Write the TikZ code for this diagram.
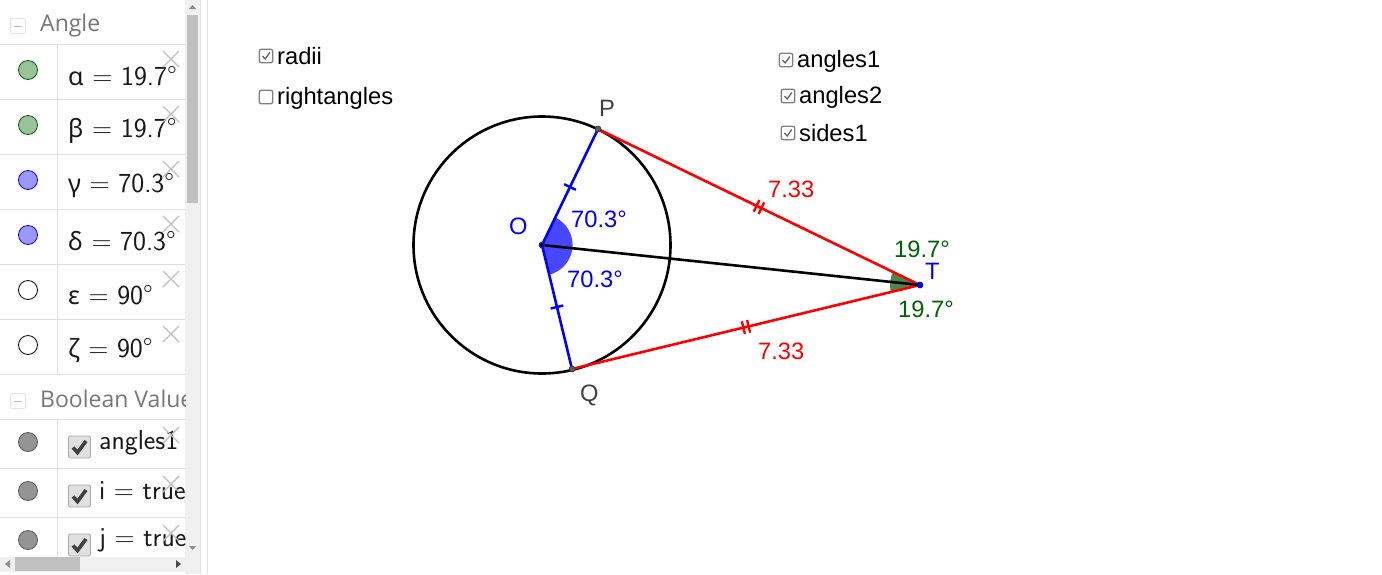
\documentclass[tikz,border=0pt]{standalone}
\usepackage{fontspec}
\usetikzlibrary{calc}
\setmainfont{Liberation Sans}
\newfontfamily\panelfont{Open Sans}
\newfontfamily\greekfont{Noto Sans}
\setsansfont{Latin Modern Sans}
\definecolor{gridl}{HTML}{E0E0E0}
\definecolor{darkgreen}{HTML}{006400}
\definecolor{markgreen}{HTML}{99C299}
\definecolor{markblue}{HTML}{9999FF}
\definecolor{headgray}{HTML}{777777}
\definecolor{scrollbg}{HTML}{F0F0F0}
\definecolor{thumb}{HTML}{C0C0C0}
\tikzset{
 lab/.style={font=\fontsize{23.7}{24}\selectfont,anchor=west,inner sep=0pt},
 blab/.style={lab,text=blue},
 rlab/.style={lab,text=red},
 glab/.style={lab,text=darkgreen},
 plab/.style={lab,text=black!75},
 pt/.style={circle,draw=black!80,fill=black!65,inner sep=0pt,minimum size=6pt,line width=.6pt},
 cbx/.style={draw=black!50,fill=white,rounded corners=2pt,line width=1.3pt,minimum size=13.5pt,inner sep=0pt},
 rowtext/.style={font=\sffamily\fontsize{27.5}{28}\selectfont,anchor=west,inner sep=0pt,text=black!90},
 head/.style={font=\panelfont\fontsize{23}{24}\selectfont,text=headgray,anchor=west,inner sep=0pt},
 mk/.style={circle,draw=#1,inner sep=0pt,minimum size=19pt,line width=.8pt},
 closex/.style={draw=black!25,line width=1.4pt},
 grid/.style={draw=gridl,line width=1pt},
 minusbox/.style={draw=black!10,rounded corners=2pt,line width=1pt,minimum size=15pt,inner sep=0pt,fill=white},
 panelcheck/.style={draw=black!35,fill=black!12,rounded corners=2pt,line width=.8pt,minimum size=22pt,inner sep=0pt},
 seg/.style={line width=2.6pt},
}
\newcommand{\tick}[3]{\draw[#3,line width=2.4pt] ($(#1)!.5!(#2)!6.5pt!90:(#2)$) -- ($(#1)!.5!(#2)!6.5pt!-90:(#2)$);}
\newcommand{\dtick}[3]{%
 \draw[#3,line width=2.4pt] ($($(#1)!.5!(#2)$)!2.7pt!0:(#2)!6.5pt!90:(#2)$) -- ($($(#1)!.5!(#2)$)!2.7pt!0:(#2)!6.5pt!-90:(#2)$);
 \draw[#3,line width=2.4pt] ($($(#1)!.5!(#2)$)!-2.7pt!0:(#2)!6.5pt!90:(#2)$) -- ($($(#1)!.5!(#2)$)!-2.7pt!0:(#2)!6.5pt!-90:(#2)$);}
\newcommand{\xmark}[2]{\draw[closex] (#1-8,#2-8) -- (#1+8,#2+8) (#1+8,#2-8) -- (#1-8,#2+8);}
\newcommand{\chk}[2]{\draw[black!75,line width=3.6pt] (#1-6.5,#2+0.5) -- (#1-2,#2+5.5) -- (#1+6.5,#2-6);}
\newcommand{\minichk}[2]{\draw[black!60,line width=1.3pt] (#1-3.5,#2) -- (#1-.8,#2+3) -- (#1+3.8,#2-3.5);}
\begin{document}
\begin{tikzpicture}[x=1pt,y=-1pt]
\useasboundingbox (0,0) rectangle (1382,574);
\fill[white] (0,0) rectangle (1382,574);
% --- geometry
\coordinate (C) at (542,245);
\node[circle,draw=black,line width=2.6pt,minimum size=257pt,inner sep=0pt] (circ) at (C) {};
\fill[blue,opacity=.72] (542,245) -- (555.3,217.5) arc[start angle=-64.2,end angle=76.4,radius=30.5] -- cycle;
\fill[darkgreen!85!black,opacity=.7] (920,285) -- (893,271.9) arc[start angle=205.85,end angle=166.4,radius=30] -- cycle;
\coordinate (Oc) at (542,245);\coordinate (Pc) at (598,129);\coordinate (Qc) at (572,369);\coordinate (Tc) at (920,285);
\draw[blue,seg] (Oc) -- (Pc);
\draw[blue,seg] (Oc) -- (Qc);
\draw[red,seg] (Pc) -- (Tc);
\draw[red,seg] (Qc) -- (Tc);
\draw[black,seg] (Oc) -- (Tc);
\tick{Oc}{Pc}{blue}
\tick{Oc}{Qc}{blue}
\dtick{Pc}{Tc}{red}
\dtick{Qc}{Tc}{red}
\node[pt,fill=blue!70!black] (O) at (Oc) {};
\node[pt] (P) at (Pc) {};
\node[pt] (Q) at (Qc) {};
\node[pt,fill=blue,draw=blue!50!black] (T) at (Tc) {};
\node[plab] (lP) at (599,108) {P};
\node[plab] (lQ) at (580,395) {Q};
\node[blab] (lO) at (509,226) {O};
\node[blab] (lT) at (925,271) {T};
\node[blab] (a1) at (571,219) {70.3°};
\node[blab] (a2) at (567,279) {70.3°};
\node[glab] (b1) at (894,249) {19.7°};
\node[glab] (b2) at (898,309) {19.7°};
\node[rlab] (s1) at (768,189) {7.33};
\node[rlab] (s2) at (758,351) {7.33};
% --- checkboxes
\foreach \nm/\tx/\lx/\ly/\on/\dy in {c1/radii/266/56/1/0,c2/rightangles/266/97/0/1.5,c3/angles1/786/60/1/1,c4/angles2/788/96/1/1,c5/sides1/788/133/1/0}{
 \node[cbx] (\nm) at (\lx,\ly) {};
 \node[lab,text=black] (\nm t) at (\lx+11,\ly+\dy) {\tx};
 \ifnum\on=1 \minichk{\lx}{\ly}\fi
}
% --- panel
\fill[scrollbg] (185,0) rectangle (200,574);
\fill[scrollbg] (0,557) rectangle (185,572);
\fill[thumb] (187,15) rectangle (198,203);
\fill[thumb] (15,557) rectangle (80,571);
\fill[black!45] (189,9) -- (196,9) -- (192.5,5) -- cycle;
\fill[black!45] (189,546) -- (196,546) -- (192.5,550) -- cycle;
\fill[black!45] (5,564) -- (10,560) -- (10,568) -- cycle;
\fill[black!70] (181,564) -- (176,560) -- (176,568) -- cycle;
\draw[grid] (200.5,0) -- (200.5,574);
\draw[grid] (207.5,0) -- (207.5,574);
\foreach \yy in {44,99,154,209,264,319,374,419,468,517} \draw[grid] (0,\yy) -- (185,\yy);
\draw[grid] (57,44) -- (57,374);
\draw[grid] (57,419) -- (57,557);
\node[minusbox] (m1) at (18,26) {};
\draw[black!25,line width=1pt] (14,26) -- (22,26);
\node[minusbox] (m2) at (18,401) {};
\draw[black!25,line width=1pt] (14,401) -- (22,401);
\node[head] (h1) at (40,26) {Angle};
\begin{scope}
\clip (0,380) rectangle (185,557);
\node[head] (h2) at (40,399) {Boolean Value};
\end{scope}
\foreach \nm/\yy/\cc/\dd in {r1/70/markgreen/darkgreen,r2/125/markgreen/darkgreen,r3/180/markblue/blue,r4/235/markblue/blue,r5/290/white/black,r6/345/white/black}{
 \node[mk=\dd,fill=\cc] (\nm) at (28,\yy) {};
}
\foreach \nm/\yy in {r7/442,r8/491,r9/540}{
 \node[mk=black!65,fill=black!42] (\nm) at (28,\yy) {};
}
\node[rowtext] (t1) at (68,76) {{\greekfont\fontsize{25}{25}\selectfont α} = 19.7°};
\node[rowtext] (t2) at (68,131) {{\greekfont\fontsize{25}{25}\selectfont β} = 19.7°};
\node[rowtext] (t3) at (68,186) {{\greekfont\fontsize{25}{25}\selectfont γ} = 70.3°};
\node[rowtext] (t4) at (68,241) {{\greekfont\fontsize{25}{25}\selectfont δ} = 70.3°};
\node[rowtext] (t5) at (68,295) {{\greekfont\fontsize{25}{25}\selectfont ε} = 90°};
\node[rowtext] (t6) at (68,350) {{\greekfont\fontsize{25}{25}\selectfont ζ} = 90°};
\foreach \nm/\yy in {q1/447,q2/496,q3/545}{
 \node[panelcheck] (\nm) at (79.5,\yy) {};
 \chk{79.5}{\yy}
}
\begin{scope}
\clip (0,420) rectangle (185,557);
\node[rowtext] (t7) at (99,443) {angles1};
\node[rowtext] (t8) at (99,491) {i = true};
\node[rowtext] (t9) at (99,540) {j = true};
\end{scope}
\foreach \yy in {59,114,169,224,279,334,435,484,533} {\xmark{171}{\yy}}
\end{tikzpicture}
\end{document}
